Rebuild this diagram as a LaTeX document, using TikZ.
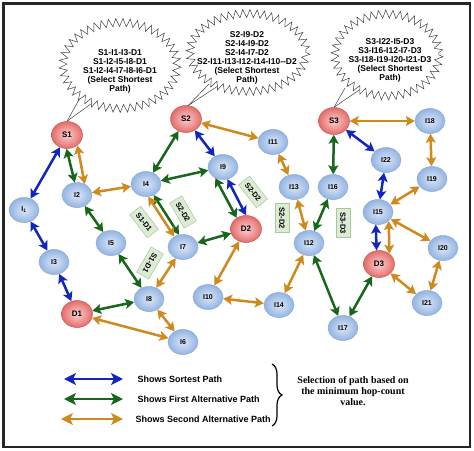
\documentclass[tikz,border=0pt]{standalone}
\usepackage{fontspec}
\setmainfont{Liberation Sans}
\newfontfamily\legserif{Liberation Serif}
\usetikzlibrary{shapes.geometric,arrows.meta,decorations.pathmorphing,decorations.pathreplacing}
\definecolor{pblue}{HTML}{1226BE}
\definecolor{pgreen}{HTML}{17661A}
\definecolor{porange}{HTML}{CF8A1E}
\definecolor{nbfillA}{HTML}{DCE7F6}
\definecolor{nbfillB}{HTML}{93B4E2}
\definecolor{nbdraw}{HTML}{8AA8D6}
\definecolor{nrfillA}{HTML}{FAD0CF}
\definecolor{nrfillB}{HTML}{E46C6A}
\definecolor{nrdraw}{HTML}{C65A58}
\definecolor{lblfill}{HTML}{DCEBD4}
\definecolor{lbldraw}{HTML}{A8C79A}
\begin{document}
\begin{tikzpicture}[x=1pt,y=-1pt,
  inode/.style={ellipse, minimum width=30pt, minimum height=25pt, inner sep=0pt,
    draw=nbdraw, line width=0.5pt, inner color=nbfillA, outer color=nbfillB,
    font=\fontsize{7}{7}\selectfont\bfseries},
  rnode/.style={ellipse, minimum width=31pt, minimum height=27pt, inner sep=0pt,
    draw=nrdraw, line width=0.5pt, inner color=nrfillA, outer color=nrfillB,
    font=\fontsize{8}{8}\selectfont\bfseries},
  arr/.style={line width=2.5pt, {Stealth[length=9pt,width=10pt,inset=2pt]}-{Stealth[length=9pt,width=10pt,inset=2pt]}},
  blu/.style={arr, draw=pblue},
  grn/.style={arr, draw=pgreen},
  org/.style={arr, draw=porange},
  legarr/.style={line width=2.8pt, {Stealth[length=12pt,width=12pt,inset=3pt]}-{Stealth[length=12pt,width=12pt,inset=3pt]}},
  lbl/.style={draw=lbldraw, fill=lblfill, line width=0.5pt, minimum width=29pt, minimum height=14pt,
    inner sep=1pt, font=\fontsize{7.5}{8}\selectfont\bfseries},
  callout/.style={draw=black!75, line width=0.5pt, fill=white, decorate,
    decoration={zigzag, segment length=7pt, amplitude=4pt}},
  tailline/.style={draw=black!75, line width=0.5pt},
  ctext/.style={align=center, font=\fontsize{8.5}{9}\selectfont\bfseries},
  legtext/.style={anchor=west, font=\fontsize{9}{11}\selectfont\bfseries}
]
\useasboundingbox (0,0) rectangle (474,450);
\fill[white] (0,0) rectangle (474,450);
\draw[line width=2.5pt, black!85] (3.5,3.5) rectangle (470,447);

% nodes
\node[rnode] (S1) at (67,135) {S1};
\node[rnode] (S2) at (186,119) {S2};
\node[rnode] (S3) at (334,121) {S3};
\node[rnode] (D1) at (77,314) {D1};
\node[rnode] (D2) at (246,229) {D2};
\node[rnode] (D3) at (379,264) {D3};
\node[inode] (I1) at (24,210) {I\textsubscript{1}};
\node[inode] (I2) at (77,195) {I2};
\node[inode] (I3) at (54,262) {I3};
\node[inode] (I4) at (146,184) {I4};
\node[inode] (I5) at (111,243) {I5};
\node[inode] (I6) at (183,342) {I6};
\node[inode] (I7) at (183,247) {I7};
\node[inode] (I8) at (149,299) {I8};
\node[inode] (I9) at (223,167) {I9};
\node[inode] (I10) at (208,297) {I10};
\node[inode] (I11) at (273,142) {I11};
\node[inode] (I12) at (309,243) {I12};
\node[inode] (I13) at (294,187) {I13};
\node[inode] (I14) at (279,305) {I14};
\node[inode] (I15) at (378,212) {I15};
\node[inode] (I16) at (333,187) {I16};
\node[inode] (I17) at (343,328) {I17};
\node[inode] (I18) at (430,121) {I18};
\node[inode] (I19) at (432,179) {I19};
\node[inode] (I20) at (443,248) {I20};
\node[inode] (I21) at (427,303) {I21};
\node[inode] (I22) at (386,160) {I22};

% callouts
\coordinate (c1a) at (80,98);
\coordinate (c1b) at (99,98);
\coordinate (c2a) at (209,84);
\coordinate (c2b) at (224,82);
\coordinate (c3a) at (345,88);
\coordinate (c3b) at (368,84);
\draw[tailline] (S1.north) -- (c1a);
\draw[tailline] (S1.north) -- (c1b);
\draw[tailline] (S2.80) -- (c2a);
\draw[tailline] (S2.80) -- (c2b);
\draw[tailline] (S3.north) -- (c3a);
\draw[tailline] (S3.north) -- (c3b);
\draw[callout] (120,65.5) ellipse [x radius=57, y radius=43];
\draw[callout] (248,52.5) ellipse [x radius=58, y radius=39];
\draw[callout] (387,55) ellipse [x radius=52, y radius=41];
\node[ctext] (t1) at (120,71) {S1-I1-I3-D1\\S1-I2-I5-I8-D1\\S1-I2-I4-I7-I8-I6-D1\\(Select Shortest\\Path)};
\node[ctext] (t2) at (247,58) {S2-I9-D2\\S2-I4-I9-D2\\S2-I4-I7-D2\\S2-I11-I13-I12-I14-I10-{}-D2\\(Select Shortest\\Path)};
\node[ctext] (t3) at (390,60) {S3-I22-I5-D3\\S3-I16-I12-I7-D3\\S3-I18-I19-I20-I21-D3\\(Select Shortest\\Path)};

% blue edges
\draw[blu] (S1) -- (I1);
\draw[blu] (I1) -- (I3);
\draw[blu] (I3) -- (D1);
\draw[blu] (S2) -- (I9);
\draw[blu] (I9.-70) -- (D2.90);
\draw[blu] (S3) -- (I22);
\draw[blu] (I22) -- (I15);
\draw[blu] (I15.-100) -- (D3.100);
% green edges
\draw[grn] (S1.-92) -- (I2.100);
\draw[grn] (I2) -- (I5);
\draw[grn] (I5) -- (I8);
\draw[grn] (I8) -- (D1);
\draw[grn] (S2) -- (I4);
\draw[grn] (I4) -- (I9);
\draw[grn] (I9.-125) -- (D2.130);
\draw[grn] (I4.-55) -- (I7.108);
\draw[grn] (I7) -- (D2);
\draw[grn] (S3) -- (I16);
\draw[grn] (I16) -- (I12);
\draw[grn] (I12) -- (I17);
\draw[grn] (I17) -- (D3);
% orange edges
\draw[org] (S1.-45) -- (I2.55);
\draw[org] (I2) -- (I4);
\draw[org] (I4.-80) -- (I7.130);
\draw[org] (I7) -- (I8);
\draw[org] (I8) -- (I6);
\draw[org] (D1) -- (I6);
\draw[org] (S2) -- (I11);
\draw[org] (I11) -- (I13);
\draw[org] (I13) -- (I12);
\draw[org] (I12) -- (I14);
\draw[org] (I14) -- (I10);
\draw[org] (I10) -- (D2);
\draw[org] (S3) -- (I18);
\draw[org] (I18) -- (I19);
\draw[org] (I19) -- (I15);
\draw[org] (I15) -- (I20);
\draw[org] (I15.-40) -- (D3.45);
\draw[org] (I20) -- (I21);
\draw[org] (I21) -- (D3);

% path labels
\node[lbl, rotate=-52] (L1) at (144,222) {S1-D1};
\node[lbl, rotate=-120] (L2) at (150,263) {S1-D1};
\node[lbl, rotate=-60] (L3) at (183,212) {S2-D2};
\node[lbl, rotate=-52] (L4) at (253,192) {S2-D2};
\node[lbl, rotate=-90] (L5) at (282,218) {S2-D2};
\node[lbl, rotate=-90] (L6) at (343,223) {S3-D3};

% legend
\coordinate (la1) at (64,379); \coordinate (lb1) at (123,379);
\coordinate (la2) at (64,399); \coordinate (lb2) at (123,399);
\coordinate (la3) at (61,419); \coordinate (lb3) at (123,419);
\draw[legarr, draw=pblue] (la1) -- (lb1);
\draw[legarr, draw=pgreen] (la2) -- (lb2);
\draw[legarr, draw=porange] (la3) -- (lb3);
\node[legtext] (g1) at (134,379) {Shows Sortest Path};
\node[legtext] (g2) at (134,399) {Shows First Alternative Path};
\node[legtext] (g3) at (132,419) {Shows Second Alternative Path};
\coordinate (br1) at (272,364);
\coordinate (br2) at (272,426);
\draw[decorate, decoration={brace, amplitude=10pt}, line width=1.2pt] (br1) -- (br2);
\node[align=center, font=\legserif\bfseries\fontsize{10}{11}\selectfont] (sel) at (353,391)
  {Selection of path based on\\the minimum hop-count\\value.};
\end{tikzpicture}
\end{document}
